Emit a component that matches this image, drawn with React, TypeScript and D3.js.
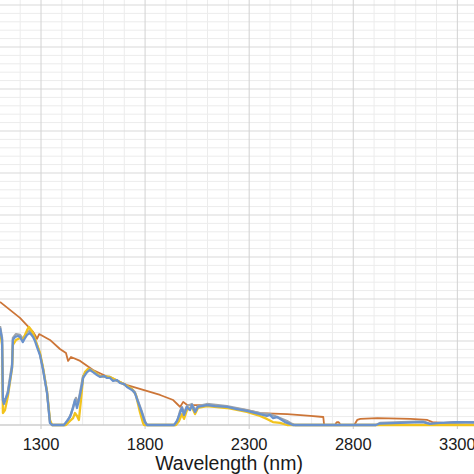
import React from "react";
import * as d3 from "d3";

// Wavelength (nm) and spectral irradiance values
const etrNm = [1103, 1199, 1262, 1271, 1281, 1291, 1343, 1391, 1420, 1430, 1444, 1488, 1550, 1632, 1714, 1791, 1872, 1935, 1954, 1968, 1983, 2002, 2031, 2098, 2194, 2291, 2353, 2483, 2594, 2656, 2660, 2714, 2718, 2723, 2728, 2733, 2737, 2805, 2819, 2834, 2916, 3074, 3156, 3180, 3233, 3291, 3380];
const etrVal = [0.586, 0.51, 0.443, 0.429, 0.41, 0.433, 0.405, 0.362, 0.343, 0.305, 0.324, 0.305, 0.262, 0.224, 0.19, 0.167, 0.143, 0.119, 0.1, 0.086, 0.11, 0.095, 0.095, 0.095, 0.086, 0.071, 0.057, 0.052, 0.043, 0.038, 0, 0, 0.01, 0.014, 0.014, 0.01, 0, 0, 0.024, 0.029, 0.033, 0.029, 0.024, 0.014, 0.01, 0.014, 0.014];

const grayNm = [1103, 1113, 1117, 1127, 1141, 1161, 1165, 1180, 1199, 1213, 1233, 1247, 1262, 1281, 1295, 1310, 1329, 1343, 1353, 1415, 1430, 1444, 1458, 1468, 1478, 1487, 1502, 1521, 1535, 1559, 1583, 1631, 1679, 1713, 1737, 1751, 1766, 1785, 1799, 1809, 1944, 1958, 1968, 1977, 1987, 2001, 2025, 2040, 2054, 2097, 2193, 2289, 2352, 2400, 2448, 2482, 2506, 2520, 2909, 2928, 3135, 3168, 3380];
const grayVal = [0.471, 0.414, 0.129, 0.114, 0.162, 0.29, 0.414, 0.433, 0.429, 0.41, 0.443, 0.448, 0.429, 0.381, 0.338, 0.267, 0.157, 0.014, 0, 0, 0.024, 0.052, 0.1, 0.129, 0.1, 0.152, 0.233, 0.257, 0.267, 0.252, 0.233, 0.229, 0.205, 0.186, 0.171, 0.157, 0.114, 0.062, 0.019, 0, 0, 0.029, 0.067, 0.086, 0.057, 0.09, 0.1, 0.071, 0.09, 0.1, 0.09, 0.071, 0.057, 0.052, 0.033, 0.019, 0.005, 0, 0, 0.01, 0.017, 0.005, 0.014];

const yellowNm = [1103, 1113, 1117, 1127, 1141, 1161, 1165, 1180, 1199, 1213, 1233, 1242, 1262, 1281, 1295, 1310, 1329, 1343, 1353, 1420, 1439, 1454, 1463, 1473, 1482, 1492, 1502, 1511, 1526, 1550, 1583, 1631, 1679, 1713, 1737, 1756, 1775, 1790, 1795, 1948, 1963, 1977, 1987, 2001, 2025, 2040, 2054, 2097, 2193, 2289, 2352, 2385, 2414, 2448, 2482, 3380];
const yellowVal = [0.452, 0.381, 0.057, 0.071, 0.138, 0.271, 0.381, 0.405, 0.414, 0.405, 0.452, 0.467, 0.438, 0.381, 0.343, 0.271, 0.157, 0.024, 0, 0, 0.019, 0.033, 0.057, 0.043, 0.024, 0.119, 0.224, 0.252, 0.267, 0.257, 0.233, 0.229, 0.205, 0.186, 0.171, 0.143, 0.062, 0.01, 0, 0, 0.019, 0.052, 0.029, 0.071, 0.086, 0.052, 0.081, 0.09, 0.081, 0.062, 0.043, 0.029, 0.014, 0.01, 0, 0];

const blueNm = [1103, 1113, 1117, 1122, 1132, 1141, 1151, 1161, 1165, 1175, 1189, 1199, 1213, 1223, 1233, 1247, 1262, 1271, 1281, 1295, 1310, 1329, 1343, 1353, 1410, 1425, 1439, 1454, 1463, 1473, 1487, 1497, 1502, 1521, 1535, 1550, 1569, 1583, 1603, 1617, 1631, 1646, 1665, 1679, 1699, 1713, 1737, 1751, 1766, 1785, 1799, 1809, 1939, 1953, 1968, 1977, 1987, 2001, 2016, 2025, 2040, 2054, 2073, 2097, 2136, 2193, 2241, 2289, 2352, 2385, 2400, 2414, 2434, 2448, 2472, 2496, 2510, 2909, 2928, 3024, 3135, 3168, 3216, 3298, 3380];
const blueVal = [0.462, 0.405, 0.119, 0.1, 0.129, 0.152, 0.214, 0.276, 0.405, 0.419, 0.424, 0.419, 0.395, 0.414, 0.429, 0.438, 0.419, 0.4, 0.371, 0.333, 0.262, 0.152, 0.01, 0, 0, 0.019, 0.038, 0.081, 0.119, 0.081, 0.143, 0.19, 0.224, 0.252, 0.262, 0.252, 0.238, 0.229, 0.233, 0.224, 0.224, 0.21, 0.214, 0.2, 0.195, 0.181, 0.167, 0.152, 0.11, 0.057, 0.014, 0, 0, 0.019, 0.057, 0.081, 0.048, 0.086, 0.071, 0.095, 0.062, 0.086, 0.09, 0.095, 0.09, 0.086, 0.076, 0.067, 0.052, 0.043, 0.048, 0.033, 0.038, 0.029, 0.014, 0.005, 0, 0, 0.007, 0.01, 0.014, 0.005, 0.01, 0.014, 0.012];

const xTicks = [1300, 1800, 2300, 2800, 3300];
const xLabel = "Wavelength (nm)";

const W = 474;
const H = 474;

export default function App() {
  const x = d3.scaleLinear().domain([1103, 3380]).range([0, W]);
  const y = d3.scaleLinear().domain([0, 2]).range([425, 5]);

  const minorX = d3.range(1100, 3400, 100).filter((v) => !xTicks.includes(v));
  const yMajor = d3.range(0, 2.0001, 0.2);
  const yMinor = d3.range(0, 2.0001, 0.04).filter((v) => Math.abs(Math.round(v / 0.2) * 0.2 - v) > 1e-6);

  const mk = (nm: number[], val: number[]) =>
    d3
      .line<number>()
      .x((_, i) => x(nm[i]))
      .y((v) => y(v))(val) || "";

  const series = [
    { nm: etrNm, val: etrVal, color: "#cc7537", w: 1.8 },
    { nm: grayNm, val: grayVal, color: "#9ea4ab", w: 2.3 },
    { nm: yellowNm, val: yellowVal, color: "#f2c31c", w: 2.3 },
    { nm: blueNm, val: blueVal, color: "#6a92cc", w: 2.3 },
  ];

  return (
    <svg
      width={W}
      height={H}
      style={{ position: "absolute", left: 0, top: 0, background: "#fff" }}
      fontFamily="'Liberation Sans', Arial, sans-serif"
    >
      <g>
        {yMinor.map((v) => (
          <line key={"ym" + v} x1={0} x2={W} y1={y(v)} y2={y(v)} stroke="#ececec" strokeWidth={1} />
        ))}
        {minorX.map((v) => (
          <line key={"xm" + v} x1={x(v)} x2={x(v)} y1={0} y2={y(0)} stroke="#ececec" strokeWidth={1} />
        ))}
        {yMajor.map((v) => (
          <line key={"yM" + v} x1={0} x2={W} y1={y(v)} y2={y(v)} stroke="#d9d9d9" strokeWidth={1} />
        ))}
        {xTicks.map((v) => (
          <line key={"xM" + v} x1={x(v)} x2={x(v)} y1={0} y2={y(0)} stroke="#d2d2d2" strokeWidth={1} />
        ))}
        <line x1={0} x2={W} y1={y(0)} y2={y(0)} stroke="#c8c8c8" strokeWidth={1} />
        {xTicks.map((v) => (
          <line key={"tk" + v} x1={x(v)} x2={x(v)} y1={y(0)} y2={y(0) + 4} stroke="#c8c8c8" strokeWidth={1} />
        ))}
      </g>
      <g fill="none" strokeLinejoin="round">
        {series.map((s, i) => (
          <path key={i} d={mk(s.nm, s.val)} stroke={s.color} strokeWidth={s.w} />
        ))}
      </g>
      <g fill="#1a1a1a" fontSize={16.5} textAnchor="middle">
        {xTicks.map((v) => (
          <text key={"lb" + v} x={x(v)} y={450}>
            {v}
          </text>
        ))}
      </g>
      <text x={229} y={470} fontSize={19.5} textAnchor="middle" fill="#1a1a1a">
        {xLabel}
      </text>
    </svg>
  );
}
